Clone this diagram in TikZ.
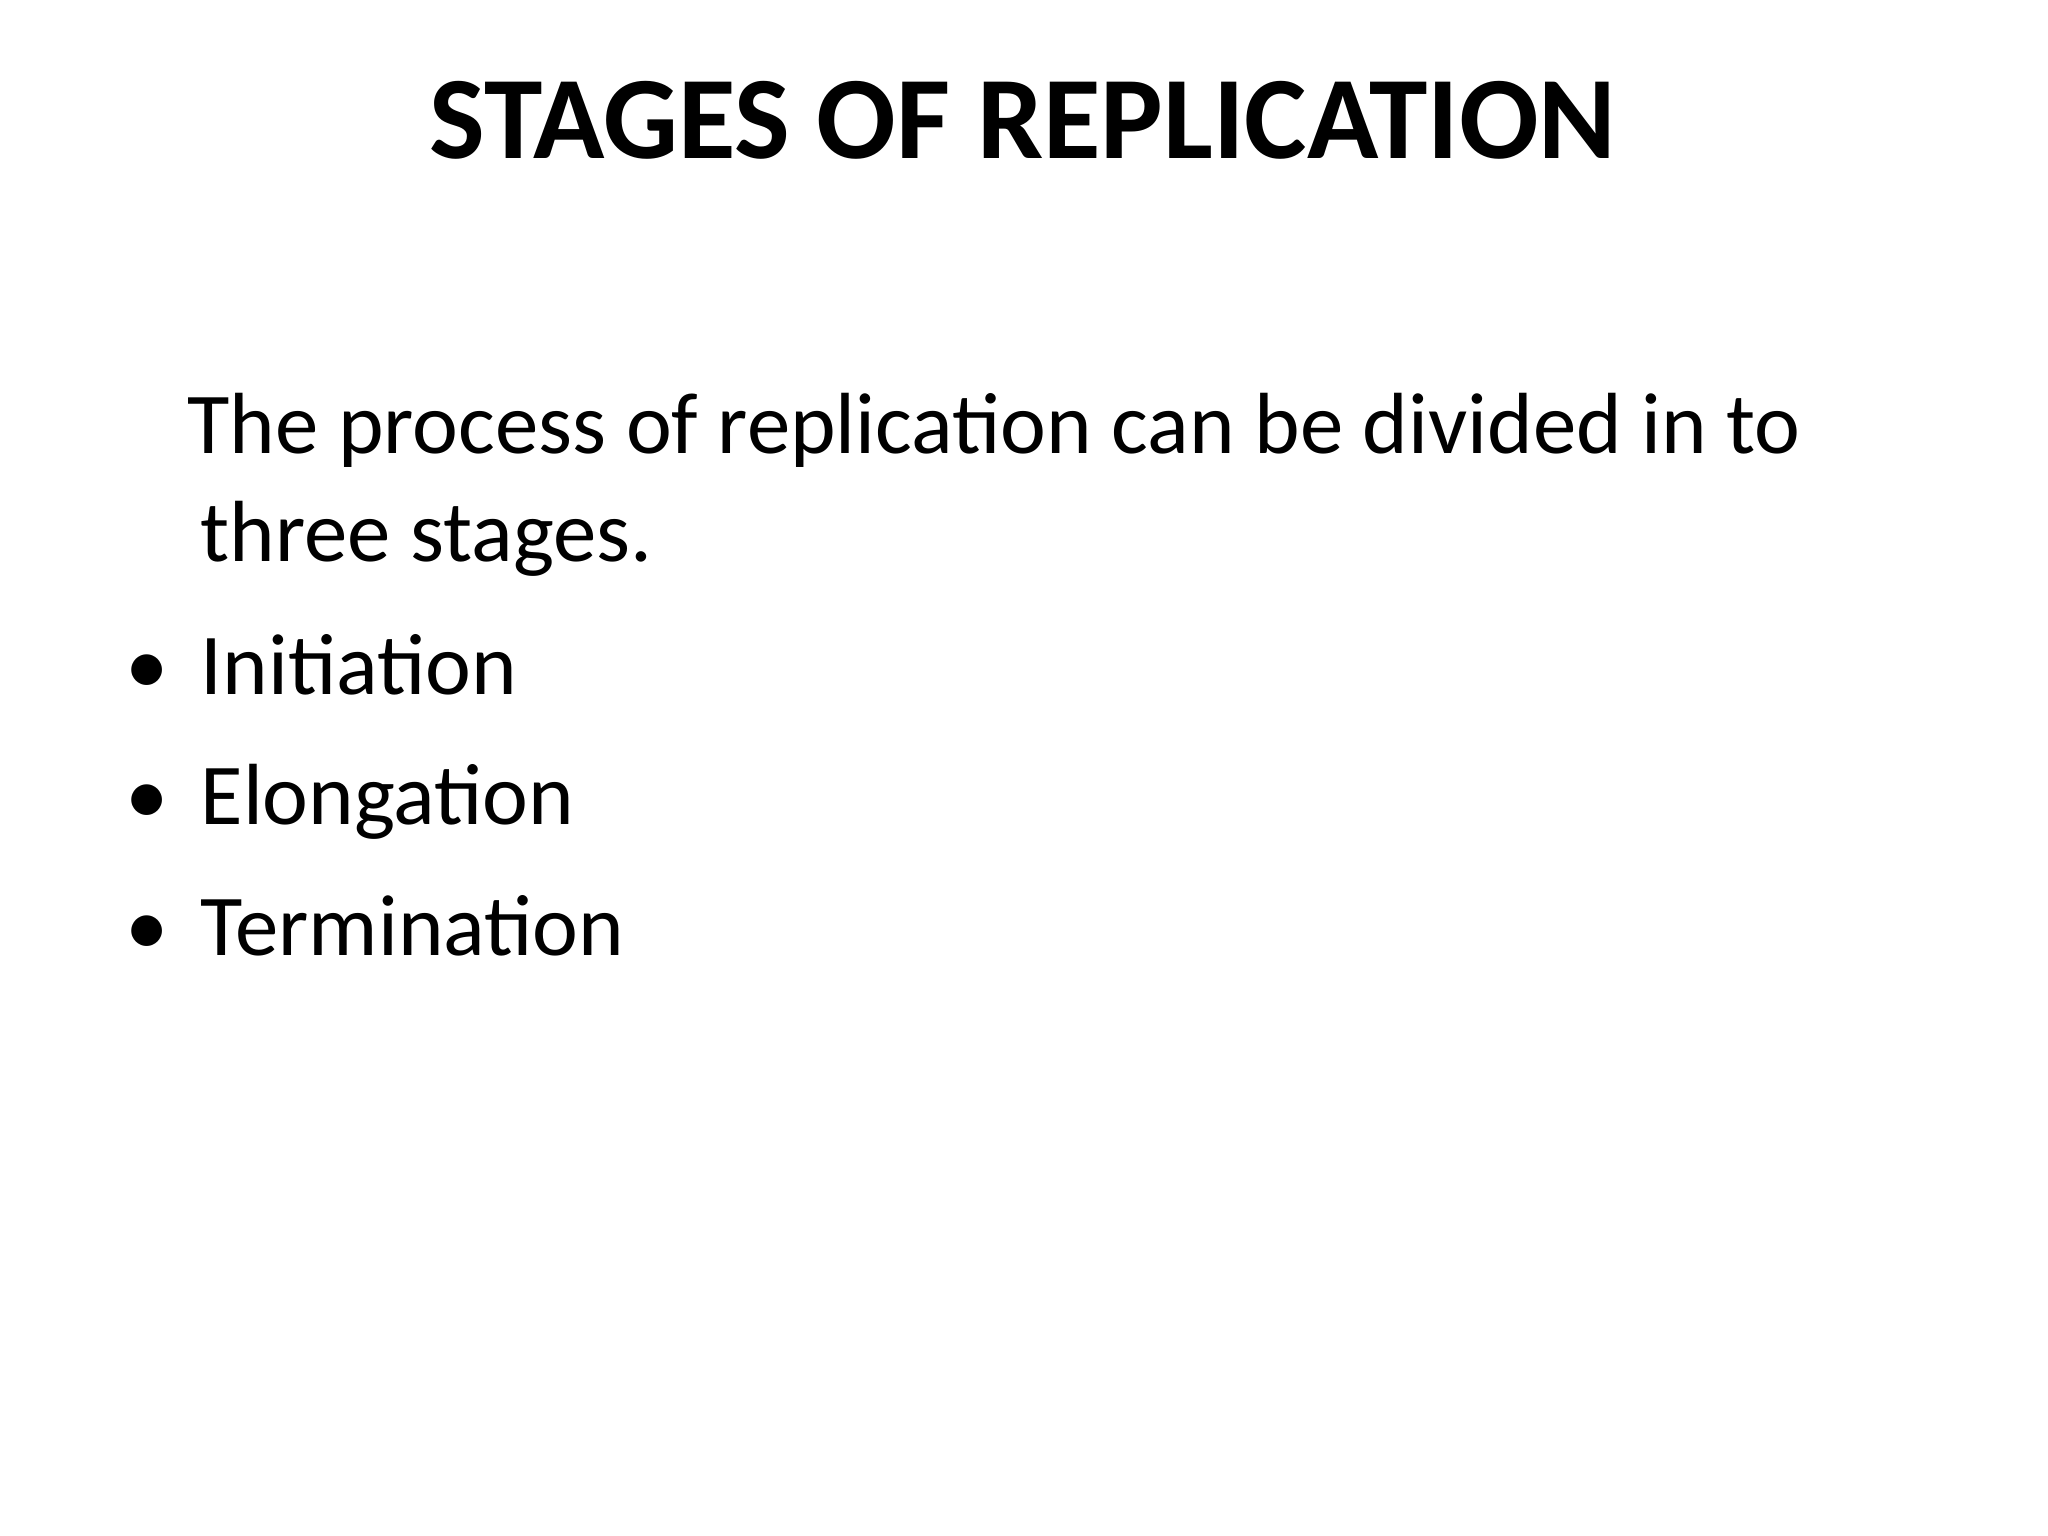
\documentclass[tikz,border=0pt]{standalone}
\usepackage{fontspec}
\setmainfont{Carlito}
\begin{document}
\begin{tikzpicture}[x=1cm,y=1cm,
  body/.style={anchor=base west,inner sep=0pt,font=\fontsize{24.7}{30}\selectfont}]
\useasboundingbox (0,0) rectangle (20.48,15.36);
\node[anchor=base,inner sep=0pt,font=\fontsize{33.5}{40}\selectfont\bfseries] (title) at (10.23,13.77) {STAGES OF REPLICATION};
\node[body] (l1) at (1.87,10.82) {The process of replication can be divided in to};
\node[body] (l2) at (2.00,9.74) {three stages.};
\node[body] (b1) at (1.25,8.41) {•};
\node[body] (i1) at (2.00,8.41) {Initiation};
\node[body] (b2) at (1.25,7.11) {•};
\node[body] (i2) at (2.00,7.11) {Elongation};
\node[body] (b3) at (1.25,5.80) {•};
\node[body] (i3) at (2.00,5.80) {Termination};
\end{tikzpicture}
\end{document}
